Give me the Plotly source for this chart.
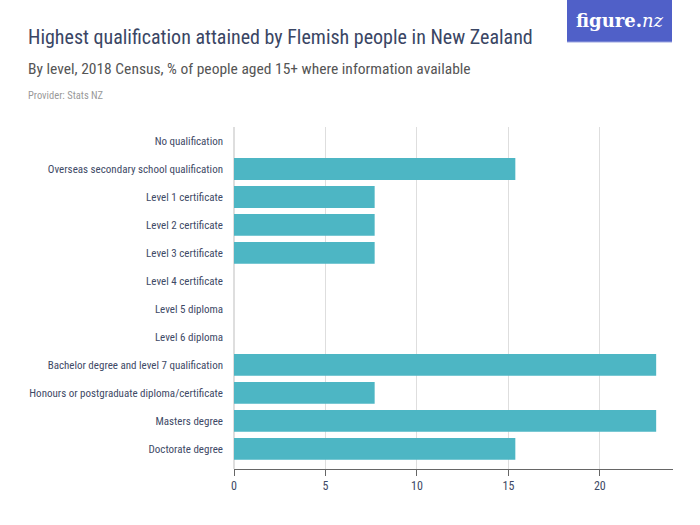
import plotly.graph_objects as go

categories = [
    "No qualification",
    "Overseas secondary school qualification",
    "Level 1 certificate",
    "Level 2 certificate",
    "Level 3 certificate",
    "Level 4 certificate",
    "Level 5 diploma",
    "Level 6 diploma",
    "Bachelor degree and level 7 qualification",
    "Honours or postgraduate diploma/certificate",
    "Masters degree",
    "Doctorate degree",
]
values = [0, 15.38, 7.69, 7.69, 7.69, 0, 0, 0, 23.08, 7.69, 23.08, 15.38]
x_ticks = [0, 5, 10, 15, 20]

font_family = "Roboto Condensed, Roboto, sans-serif"
text_col = "#3e4a66"

fig = go.Figure(go.Bar(
    x=values, y=categories, orientation="h",
    marker=dict(color="#4db6c4", line=dict(width=0)),
    width=0.78,
    hoverinfo="x+y",
))

def py(pix):
    return (469 - pix) / 342

def px(pix):
    return (pix - 234) / 439

fig.update_layout(
    width=700, height=525,
    margin=dict(l=234, r=27, t=127, b=56, autoexpand=False),
    paper_bgcolor="white", plot_bgcolor="white",
    showlegend=False,
    font=dict(family=font_family, color=text_col, size=11),
    xaxis=dict(
        range=[0, 24], tickvals=x_ticks, showgrid=True,
        gridcolor="#dedede", gridwidth=1, zeroline=True, zerolinecolor="#dedede",
        showline=True, linecolor="#666666", linewidth=1,
        ticks="outside", ticklen=6, tickcolor="#666666",
        tickfont=dict(size=12, color=text_col),
        fixedrange=True, automargin=False,
    ),
    yaxis=dict(
        categoryorder="array", categoryarray=categories,
        range=[11.72, -0.5], showgrid=False, ticks="",
        ticklabelstandoff=10,
        tickfont=dict(size=11, color=text_col),
        fixedrange=True, automargin=False,
    ),
    shapes=[
        dict(type="rect", xref="paper", yref="paper", x0=px(567), x1=px(672),
             y0=py(42), y1=py(0), line=dict(width=0),
             fillcolor="#5060c8", layer="above"),
        dict(type="line", xref="paper", yref="paper", x0=px(567), x1=px(672),
             y0=py(42), y1=py(42), line=dict(width=1, color="#9aa4e0"), layer="above"),
    ],
    annotations=[
        dict(text="Highest qualification attained by Flemish people in New Zealand",
             xref="paper", yref="paper", x=px(26), y=py(37),
             showarrow=False, xanchor="left", yanchor="middle",
             font=dict(size=20, color="#3a4664", family=font_family)),
        dict(text="By level, 2018 Census, % of people aged 15+ where information available",
             xref="paper", yref="paper", x=px(26), y=py(69),
             showarrow=False, xanchor="left", yanchor="middle",
             font=dict(size=15.5, color="#555555", family=font_family)),
        dict(text="Provider: Stats NZ",
             xref="paper", yref="paper", x=px(26), y=py(95),
             showarrow=False, xanchor="left", yanchor="middle",
             font=dict(size=10.5, color="#999999", family=font_family)),
        dict(text="<b>figure.</b><i>nz</i>",
             xref="paper", yref="paper", x=px(619.5), y=py(20),
             showarrow=False, xanchor="center", yanchor="middle",
             font=dict(size=18, color="white", family="DejaVu Serif, serif")),
    ],
)

fig.write_html("out.html")
